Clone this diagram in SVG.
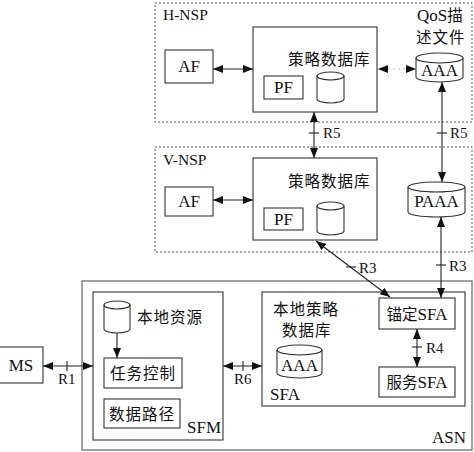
<svg xmlns="http://www.w3.org/2000/svg" width="474" height="452" viewBox="0 0 474 452">
<defs>
<style>
.bx{fill:none;stroke:#333;stroke-width:1.1}
.dot{fill:none;stroke:#555;stroke-width:1;stroke-dasharray:2,2}
.asn{fill:none;stroke:#555;stroke-width:1.1}
.ln{fill:none;stroke:#222;stroke-width:1.1}
.cyl{fill:#fff;stroke:#333;stroke-width:1.1}
.t{font-family:"Liberation Serif","Noto Sans CJK SC",serif;font-size:17px;fill:#111}
.c{text-anchor:middle}
.r{font-family:"Liberation Serif",serif;font-size:15px;fill:#111}
.zh{font-family:"Noto Sans CJK SC",sans-serif;font-size:15.5px;fill:#111;letter-spacing:1px}
.zs{font-family:"Noto Sans CJK SC",sans-serif;font-size:15.5px}
</style>
<marker id="a" viewBox="0 0 10 8" refX="10" refY="4" markerWidth="10" markerHeight="8" markerUnits="userSpaceOnUse" orient="auto-start-reverse">
<path d="M0,0 L10,4 L0,8 z" fill="#111"/>
</marker>
</defs>

<g id="h-nsp">
<rect class="dot" x="155" y="3" width="317" height="119"/>
<text class="t" x="163" y="20" style="font-size:15.5px">H-NSP</text>
</g>
<g id="h-af">
<rect class="bx" x="165" y="50" width="48" height="33"/>
<text class="t c" x="189" y="72">AF</text>
</g>
<g id="h-db">
<rect class="bx" x="253" y="27" width="124" height="85"/>
<text class="zh" x="288" y="65">策略数据库</text>
<rect class="bx" x="264" y="76" width="39" height="23"/>
<text class="t c" x="283.5" y="93">PF</text>
<path class="cyl" d="M317,76 A13.5,4 0 0 1 344,76 V99 A13.5,4 0 0 1 317,99 Z"/>
<path class="ln" d="M317,76 A13.5,4 0 0 0 344,76"/>
</g>
<g id="h-aaa">
<text class="t" x="417" y="21">QoS<tspan class="zs">描</tspan></text>
<text class="zh" x="416" y="43">述文件</text>
<path class="cyl" d="M416,58 A23.5,5 0 0 1 463,58 V77 A23.5,5 0 0 1 416,77 Z"/>
<path class="ln" d="M416,58 A23.5,5 0 0 0 463,58"/>
<text class="t c" x="439.5" y="76">AAA</text>
</g>

<g id="v-nsp">
<rect class="dot" x="155" y="147" width="317" height="105"/>
<text class="t" x="163" y="165" style="font-size:15.5px">V-NSP</text>
</g>
<g id="v-af">
<rect class="bx" x="165" y="187" width="48" height="29"/>
<text class="t c" x="189" y="207">AF</text>
</g>
<g id="v-db">
<rect class="bx" x="253" y="158" width="124" height="82"/>
<text class="zh" x="288" y="187">策略数据库</text>
<rect class="bx" x="264" y="208" width="39" height="22"/>
<text class="t c" x="283.5" y="225">PF</text>
<path class="cyl" d="M317,206 A13.5,4 0 0 1 344,206 V231 A13.5,4 0 0 1 317,231 Z"/>
<path class="ln" d="M317,206 A13.5,4 0 0 0 344,206"/>
</g>
<g id="v-paaa">
<path class="cyl" d="M408,187 A28.5,5 0 0 1 465,187 V212 A28.5,5 0 0 1 408,212 Z"/>
<path class="ln" d="M408,187 A28.5,5 0 0 0 465,187"/>
<text class="t c" x="436.5" y="207">PAAA</text>
</g>

<g id="asn">
<rect class="asn" x="82" y="281" width="390" height="169"/>
<text class="t" x="432" y="443">ASN</text>
</g>
<g id="ms">
<rect class="bx" x="-1" y="347" width="44" height="36"/>
<text class="t c" x="21" y="371">MS</text>
</g>
<g id="sfm">
<rect class="bx" x="93" y="292" width="130" height="148"/>
<path class="cyl" d="M104,305 A13,4 0 0 1 130,305 V329 A13,4 0 0 1 104,329 Z"/>
<path class="ln" d="M104,305 A13,4 0 0 0 130,305"/>
<text class="zh" x="137" y="323">本地资源</text>
<text class="t" x="187" y="433">SFM</text>
</g>
<g id="task">
<rect class="bx" x="104" y="358" width="78" height="30"/>
<text class="zh c" x="143" y="379">任务控制</text>
</g>
<g id="datapath">
<rect class="bx" x="104" y="399" width="76" height="29"/>
<text class="zh c" x="142" y="420">数据路径</text>
</g>
<g id="sfa">
<rect class="bx" x="262" y="292" width="203" height="114"/>
<text class="zh" x="273" y="315">本地策略</text>
<text class="zh" x="282" y="336">数据库</text>
<path class="cyl" d="M277,350 A22.5,5 0 0 1 322,350 V373 A22.5,5 0 0 1 277,373 Z"/>
<path class="ln" d="M277,350 A22.5,5 0 0 0 322,350"/>
<text class="t c" x="299.5" y="371">AAA</text>
<text class="t" x="270" y="400">SFA</text>
</g>
<g id="anchor-sfa">
<rect class="bx" x="379" y="298" width="76" height="31"/>
<text class="t c" x="417" y="320"><tspan class="zs">锚定</tspan>SFA</text>
</g>
<g id="serving-sfa">
<rect class="bx" x="379" y="367" width="76" height="30"/>
<text class="t c" x="417" y="388"><tspan class="zs">服务</tspan>SFA</text>
</g>

<g id="connectors">
<line class="ln" x1="213" y1="69" x2="253" y2="69" marker-start="url(#a)" marker-end="url(#a)"/>
<line x1="378" y1="69" x2="416" y2="69" stroke="#bbb" stroke-width="1" stroke-dasharray="2,3" marker-start="url(#a)" marker-end="url(#a)"/>
<line class="ln" x1="213" y1="200" x2="253" y2="200" marker-start="url(#a)" marker-end="url(#a)"/>
<line class="ln" x1="314" y1="112" x2="314" y2="158" marker-start="url(#a)" marker-end="url(#a)"/>
<line class="ln" x1="309" y1="133" x2="319" y2="133"/>
<text class="r" x="323" y="138">R5</text>
<line class="ln" x1="442" y1="82" x2="442" y2="182" marker-start="url(#a)" marker-end="url(#a)"/>
<line class="ln" x1="437" y1="133" x2="447" y2="133"/>
<text class="r" x="450" y="138">R5</text>
<line class="ln" x1="316" y1="241" x2="390" y2="297" marker-start="url(#a)" marker-end="url(#a)"/>
<line class="ln" x1="346" y1="267" x2="356" y2="267"/>
<text class="r" x="359" y="273">R3</text>
<line class="ln" x1="441" y1="217" x2="441" y2="298" marker-start="url(#a)" marker-end="url(#a)"/>
<line class="ln" x1="436" y1="265" x2="446" y2="265"/>
<text class="r" x="449" y="271">R3</text>
<line class="ln" x1="117" y1="333" x2="117" y2="358" marker-end="url(#a)"/>
<line class="ln" x1="43" y1="366" x2="93" y2="366" marker-start="url(#a)" marker-end="url(#a)"/>
<line class="ln" x1="67" y1="361" x2="67" y2="371"/>
<text class="r" x="58" y="384">R1</text>
<line class="ln" x1="223" y1="366" x2="262" y2="366" marker-start="url(#a)" marker-end="url(#a)"/>
<line class="ln" x1="243" y1="361" x2="243" y2="371"/>
<text class="r" x="234" y="384">R6</text>
<line class="ln" x1="417" y1="329" x2="417" y2="367" marker-start="url(#a)" marker-end="url(#a)"/>
<line class="ln" x1="412" y1="347" x2="422" y2="347"/>
<text class="r" x="426" y="353">R4</text>
</g>
</svg>
